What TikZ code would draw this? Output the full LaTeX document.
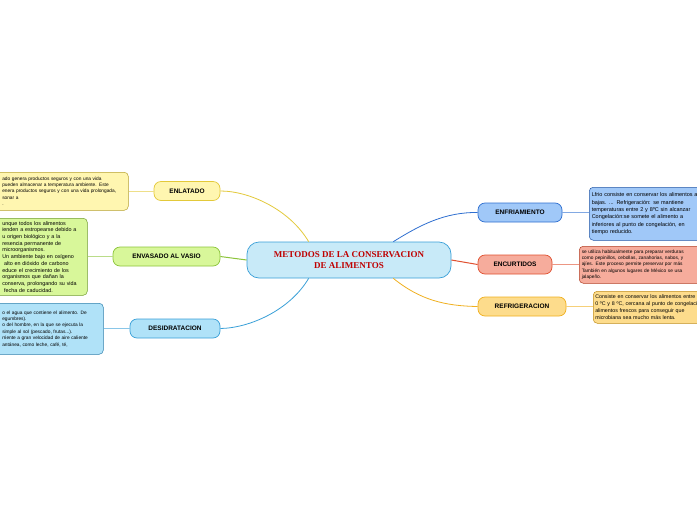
\documentclass[tikz,border=0pt]{standalone}
\usepackage{fontspec}
\setmainfont{Liberation Sans}
\newfontfamily\titlefont{Liberation Serif}
\begin{document}
\begin{tikzpicture}[x=1pt,y=-1pt,
 branch/.style={draw,rounded corners=7pt,line width=0.7pt,font=\fontsize{6.5}{7}\selectfont\bfseries,align=center,inner sep=0pt},
 note/.style={draw,rounded corners=4pt,line width=0.5pt,font=\fontsize{4.8}{6.4}\selectfont,align=left,anchor=north west,inner sep=2pt},
 leaf/.style={line width=0.5pt}]
\clip (0,0) rectangle (697,520);
\useasboundingbox (0,0) rectangle (697,520);
\fill[white] (0,0) rectangle (697,520);
\definecolor{yf}{HTML}{FFF6B0}\definecolor{yb}{HTML}{E3C93A}
\definecolor{gf}{HTML}{D8F79A}\definecolor{gb}{HTML}{8CC43A}
\definecolor{bf}{HTML}{B0E2F8}\definecolor{bb}{HTML}{3AA0D8}
\definecolor{df}{HTML}{A0C8F8}\definecolor{db}{HTML}{2F6FD0}
\definecolor{sf}{HTML}{F6AC9C}\definecolor{sb}{HTML}{E05030}
\definecolor{of}{HTML}{FDDC8C}\definecolor{ob}{HTML}{F0B020}
\definecolor{cf}{HTML}{C8EAF8}
% center
\node[draw=bb,fill=cf,rounded corners=12pt,line width=0.7pt,minimum width=204pt,minimum height=36pt,align=center,font=\titlefont\fontsize{9}{11}\selectfont\bfseries,text=red!75!black] (c) at (349,260) {METODOS DE LA CONSERVACION\\DE ALIMENTOS};
% branches
\node[branch,fill=yf,draw=yb,minimum width=66pt,minimum height=19pt] (en) at (187,191) {ENLATADO};
\node[branch,fill=gf,draw=gb,minimum width=107pt,minimum height=19pt] (ev) at (166.5,256.5) {ENVASADO AL VASIO};
\node[branch,fill=bf,draw=bb,minimum width=90pt,minimum height=19pt] (de) at (175,328.5) {DESIDRATACION};
\node[branch,fill=df,draw=db,minimum width=84pt,minimum height=19pt] (ef) at (520,212.5) {ENFRIAMIENTO};
\node[branch,fill=sf,draw=sb,minimum width=74pt,minimum height=19pt] (ec) at (515,264.5) {ENCURTIDOS};
\node[branch,fill=of,draw=ob,minimum width=88pt,minimum height=19pt] (rf) at (522,306.5) {REFRIGERACION};
% connectors
\draw[yb,line width=0.8pt] ([xshift=62pt]c.north west) .. controls (290,210) and (250,191) .. (en.east);
\draw[gb,line width=1pt] (c.west) -- (ev.east);
\draw[bb,line width=0.8pt] ([xshift=62pt]c.south west) .. controls (290,310) and (250,328) .. (de.east);
\draw[db,line width=0.8pt] ([xshift=-58pt]c.north east) .. controls (420,225) and (445,212) .. (ef.west);
\draw[sb,line width=1pt] (c.east) -- (ec.west);
\draw[ob,line width=0.8pt] ([xshift=-58pt]c.south east) .. controls (420,300) and (445,306) .. (rf.west);
% notes
\node[note,fill=yf,draw=yb!80!black,minimum width=138pt,minimum height=38pt,text width=134pt] (n1) at (-10,172) {\hspace{10pt}ado genera productos seguros y con una vida\\\hspace{10pt}pueden almacenar a temperatura ambiente. Este\\\hspace{10pt}enera productos seguros y con una vida prolongada,\\\hspace{10pt}sonar a\\\hspace{10pt}.};
\node[note,fill=gf,draw=gb!80!black,minimum width=97pt,minimum height=77pt,text width=93pt,font=\fontsize{5.4}{6.7}\selectfont] (n2) at (-10,218) {\hspace{10pt}unque todos los alimentos\\\hspace{10pt}ienden a estropearse debido a\\\hspace{10pt}u origen biológico y a la\\\hspace{10pt}resencia permanente de\\\hspace{10pt}microorganismos.\\\hspace{10pt}Un ambiente bajo en oxígeno\\\hspace{10pt}\ alto en dióxido de carbono\\\hspace{10pt}educe el crecimiento de los\\\hspace{10pt}organismos que dañan la\\\hspace{10pt}conserva, prolongando su vida\\\hspace{10pt}\ fecha de caducidad.};
\node[note,fill=bf,draw=bb!80!black,minimum width=113pt,minimum height=51pt,text width=109pt] (n3) at (-10,303) {\hspace{10pt}o el agua que contiene el alimento. De\\\hspace{10pt}egumbres).\\\hspace{10pt}o del hombre, en la que se ejecuta la\\\hspace{10pt}simple al sol (pescado, frutas...).\\\hspace{10pt}rriente a gran velocidad de aire caliente\\\hspace{10pt}antánea, como leche, café, té,\\[6pt]};
\node[note,fill=df,draw=db!80!black,minimum width=130pt,minimum height=53pt,text width=125pt,font=\fontsize{5.5}{7.4}\selectfont] (n4) at (589,187) {Lfrio consiste en conservar los alimentos a\\bajas. ... Refrigeración: se mantiene\\temperaturas entre 2 y 8ºC sin alcanzar\\Congelación:se somete el alimento a\\inferiores al punto de congelación, en\\tiempo reducido.};
\node[note,fill=sf,draw=sb!80!black,minimum width=130pt,minimum height=37pt,text width=125pt] (n5) at (579,246) {se utiliza habitualmente para preparar verduras\\como pepinillos, cebollas, zanahorias, nabos, y\\ajíes. Este proceso permite preservar por más\\También en algunos lugares de México se usa\\jalapeño.};
\node[note,fill=of,draw=ob!80!black,minimum width=120pt,minimum height=32pt,text width=116pt,font=\fontsize{5.3}{7}\selectfont] (n6) at (593,291) {Consiste en conservar los alimentos entre\\0 ºC y 8 ºC, cercana al punto de congelación\\alimentos frescos para conseguir que\\microbiana sea mucho más lenta.};
% leaf connectors
\draw[leaf,yb!60] (en.west) -- (n1.east|-en.west);
\draw[leaf,gb!60] (ev.west) -- (n2.east|-ev.west);
\draw[leaf,bb!60] (de.west) -- (n3.east|-de.west);
\draw[leaf,db!60] (ef.east) -- (n4.west|-ef.east);
\draw[leaf,sb!60] (ec.east) -- (n5.west|-ec.east);
\draw[leaf,ob!60] (rf.east) -- (n6.west|-rf.east);
\end{tikzpicture}
\end{document}
